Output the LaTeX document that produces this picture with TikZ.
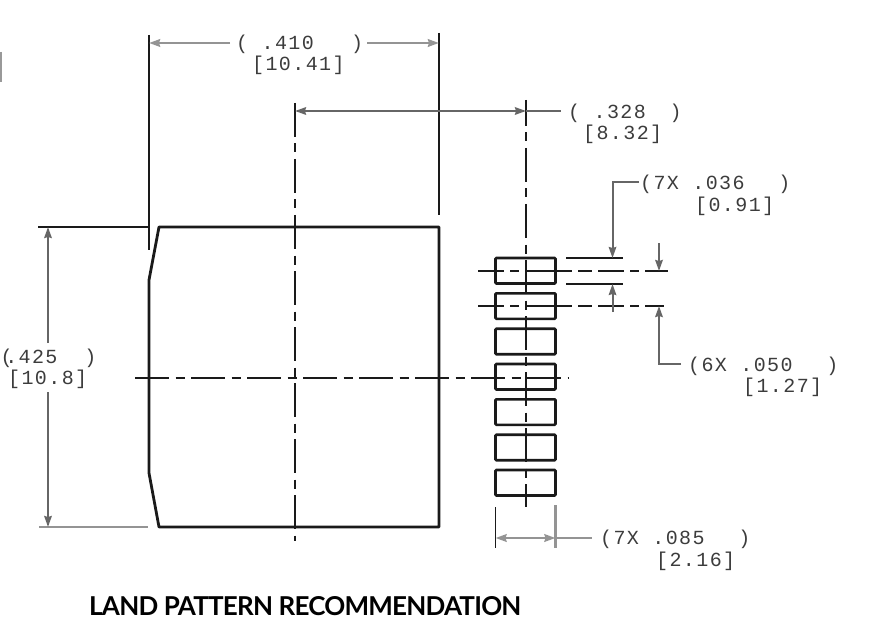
\documentclass[tikz,border=0pt]{standalone}
\usepackage{fontspec}
\usetikzlibrary{arrows.meta}
\newfontfamily\dimfont[LetterSpace=7]{Liberation Mono}
\newfontfamily\titlefont[LetterSpace=-3]{Lato}
\definecolor{ink}{HTML}{1A1A1A}
\definecolor{dimline}{HTML}{666666}
\definecolor{dimtext}{HTML}{3C3C3C}
\tikzset{
  x=1pt,y=-1pt,
  ext/.style={draw=ink,line width=1.7pt},
  extlight/.style={draw=black!42,line width=2.6pt},
  part/.style={draw=ink,line width=2.8pt,line join=round},
  center/.style={draw=ink,line width=1.7pt,dash pattern=on 34pt off 6.5pt on 9pt off 6.5pt},
  dimarrow/.style={draw=dimline,line width=2pt,>={Stealth[length=11pt,width=7.5pt,inset=1pt]}},
  dimlight/.style={draw=black!42,line width=2.6pt,>={Stealth[length=11pt,width=7.5pt,inset=1pt]}},
  dimtxt/.style={anchor=west,inner sep=0pt,text=dimtext,font=\dimfont\fontsize{20}{22}\selectfont},
  padbox/.style={draw=ink,line width=2.6pt,rounded corners=1pt,minimum width=60pt,minimum height=25.5pt,inner sep=0pt,outer sep=0pt,anchor=north west},
}
\begin{document}
\begin{tikzpicture}
\useasboundingbox (0,0) rectangle (885,628);
% coordinates
\coordinate (extL) at (149,35);
\coordinate (extLb) at (149,250);
\coordinate (extR) at (439,33);
\coordinate (extRb) at (439,215);
\coordinate (d1l) at (149,43);
\coordinate (d1la) at (230,43);
\coordinate (d1r) at (439,43);
\coordinate (d1ra) at (367,43);
\coordinate (c1t) at (295,103);
\coordinate (c1b) at (295,541);
\coordinate (c2t) at (526,100);
\coordinate (c2b) at (526,507);
\coordinate (d2l) at (295,111);
\coordinate (d2r) at (526,111);
\coordinate (d2e) at (561,111);
\coordinate (ptl) at (159,227);
\coordinate (ptr) at (439,227);
\coordinate (pbr) at (439,527);
\coordinate (pbl) at (159,527);
\coordinate (pcb) at (149,473);
\coordinate (pct) at (149,280);
\coordinate (e1a) at (38,227);
\coordinate (e1b) at (148,227);
\coordinate (e2a) at (39,527);
\coordinate (e2b) at (148,527);
\coordinate (v1a) at (48,343);
\coordinate (v1b) at (48,227);
\coordinate (v2a) at (48,392);
\coordinate (v2b) at (48,527);
\coordinate (ch1) at (135,378);
\coordinate (ch2) at (568,378);
% package
\draw[part] (ptl) -- (ptr) -- (pbr) -- (pbl) -- (pcb) -- (pct) -- cycle;
% pads
\foreach \n/\yy in {1/258,2/293.3,3/328.7,4/364,5/399.3,6/434.7,7/470}{
  \node[padbox] (pad\n) at (495.5,\yy) {};
}
% extension lines
\draw[ext] (extL) -- (extLb);
\draw[ext] (extR) -- (extRb);
\draw[ext] (e1a) -- (e1b);
\draw[extlight] (e2a) -- (e2b);
% centre lines
\draw[center] (c1t) -- (c1b);
\draw[center,dash phase=8pt] (c2t) -- (c2b);
\draw[center] (ch1) -- (ch2);
\coordinate (r1a) at (478,271);
\coordinate (r1b) at (668,271);
\coordinate (r2a) at (478,306);
\coordinate (r2b) at (664,306);
\draw[center,dash pattern=on 26pt off 6pt on 9pt off 6pt on 47pt off 6pt on 14pt off 6pt] (r1a) -- (r1b);
\draw[center,dash pattern=on 26pt off 6pt on 9pt off 6pt on 47pt off 6pt on 14pt off 6pt] (r2a) -- (r2b);
% dimensions top
\draw[dimlight,->] (d1la) -- (d1l);
\draw[dimlight,->] (d1ra) -- (d1r);
\draw[dimarrow,<->] (d2l) -- (d2r);
\draw[dimarrow] (d2r) -- (d2e);
% left dimension
\draw[dimarrow,->] (v1a) -- (v1b);
\draw[dimarrow,->] (v2a) -- (v2b);
% pad dimensions
\coordinate (p1) at (566,258);
\coordinate (p2) at (623,258);
\coordinate (p3) at (566,284);
\coordinate (p4) at (623,284);
\draw[ext] (p1) -- (p2);
\draw[ext] (p3) -- (p4);
\coordinate (a1) at (639,182);
\coordinate (a2) at (612.5,182);
\coordinate (a3) at (612.5,258);
\coordinate (a4) at (612.5,312);
\coordinate (a5) at (612.5,284);
\draw[dimarrow,->] (a1) -- (a2) -- (a3);
\draw[dimarrow,->] (a4) -- (a5);
\coordinate (b1) at (659,243);
\coordinate (b2) at (659,271);
\coordinate (b3) at (681,364);
\coordinate (b4) at (659,364);
\coordinate (b5) at (659,306);
\draw[dimarrow,->] (b1) -- (b2);
\draw[dimarrow,->] (b3) -- (b4) -- (b5);
% bottom dimension
\coordinate (w1) at (495.5,507);
\coordinate (w2) at (495.5,548);
\coordinate (w3) at (555.5,505);
\coordinate (w4) at (555.5,548);
\coordinate (w5) at (592,538);
\coordinate (w6) at (495.5,538);
\coordinate (w7) at (555.5,538);
\draw[ext] (w1) -- (w2);
\draw[extlight] (w3) -- (w4);
\draw[dimlight,<->] (w6) -- (w7);
\draw[dimlight] (w7) -- (w5);
% stray mark at left edge
\coordinate (m1) at (0.8,52);
\coordinate (m2) at (0.8,82);
\draw[draw=black!40,line width=1.6pt] (m1) -- (m2);
% text
\node[dimtxt] (t1a) at (236,44.5) {( .410~~~\kern-3pt)};
\node[dimtxt] (t1b) at (252,65.5) {[10.41]};
\node[dimtxt] (t2a) at (568,113.5) {( .328~~\kern-3pt)};
\node[dimtxt] (t2b) at (583,134.5) {[8.32]};
\node[dimtxt] (t3a) at (640,184.5) {(7X .036~~\kern7pt)};
\node[dimtxt] (t3b) at (695,206.5) {[0.91]};
\node[dimtxt] (t4a) at (688,366.5) {(6X .050~~\kern7pt)};
\node[dimtxt] (t4b) at (743,387.5) {[1.27]};
\node[dimtxt] (t5a) at (600,539.5) {(7X .085~~\kern7pt)};
\node[dimtxt] (t5b) at (656,561.5) {[2.16]};
\node[dimtxt] (t6a) at (0.5,358.5) {(\kern-7.4pt.425~~)};
\node[dimtxt] (t6b) at (8,379.5) {[10.8]};
\node[anchor=west,inner sep=0pt,text=black,font=\titlefont\bfseries\fontsize{26}{28}\selectfont] (title) at (89,606) {LAND PATTERN RECOMMENDATION};
\end{tikzpicture}
\end{document}
